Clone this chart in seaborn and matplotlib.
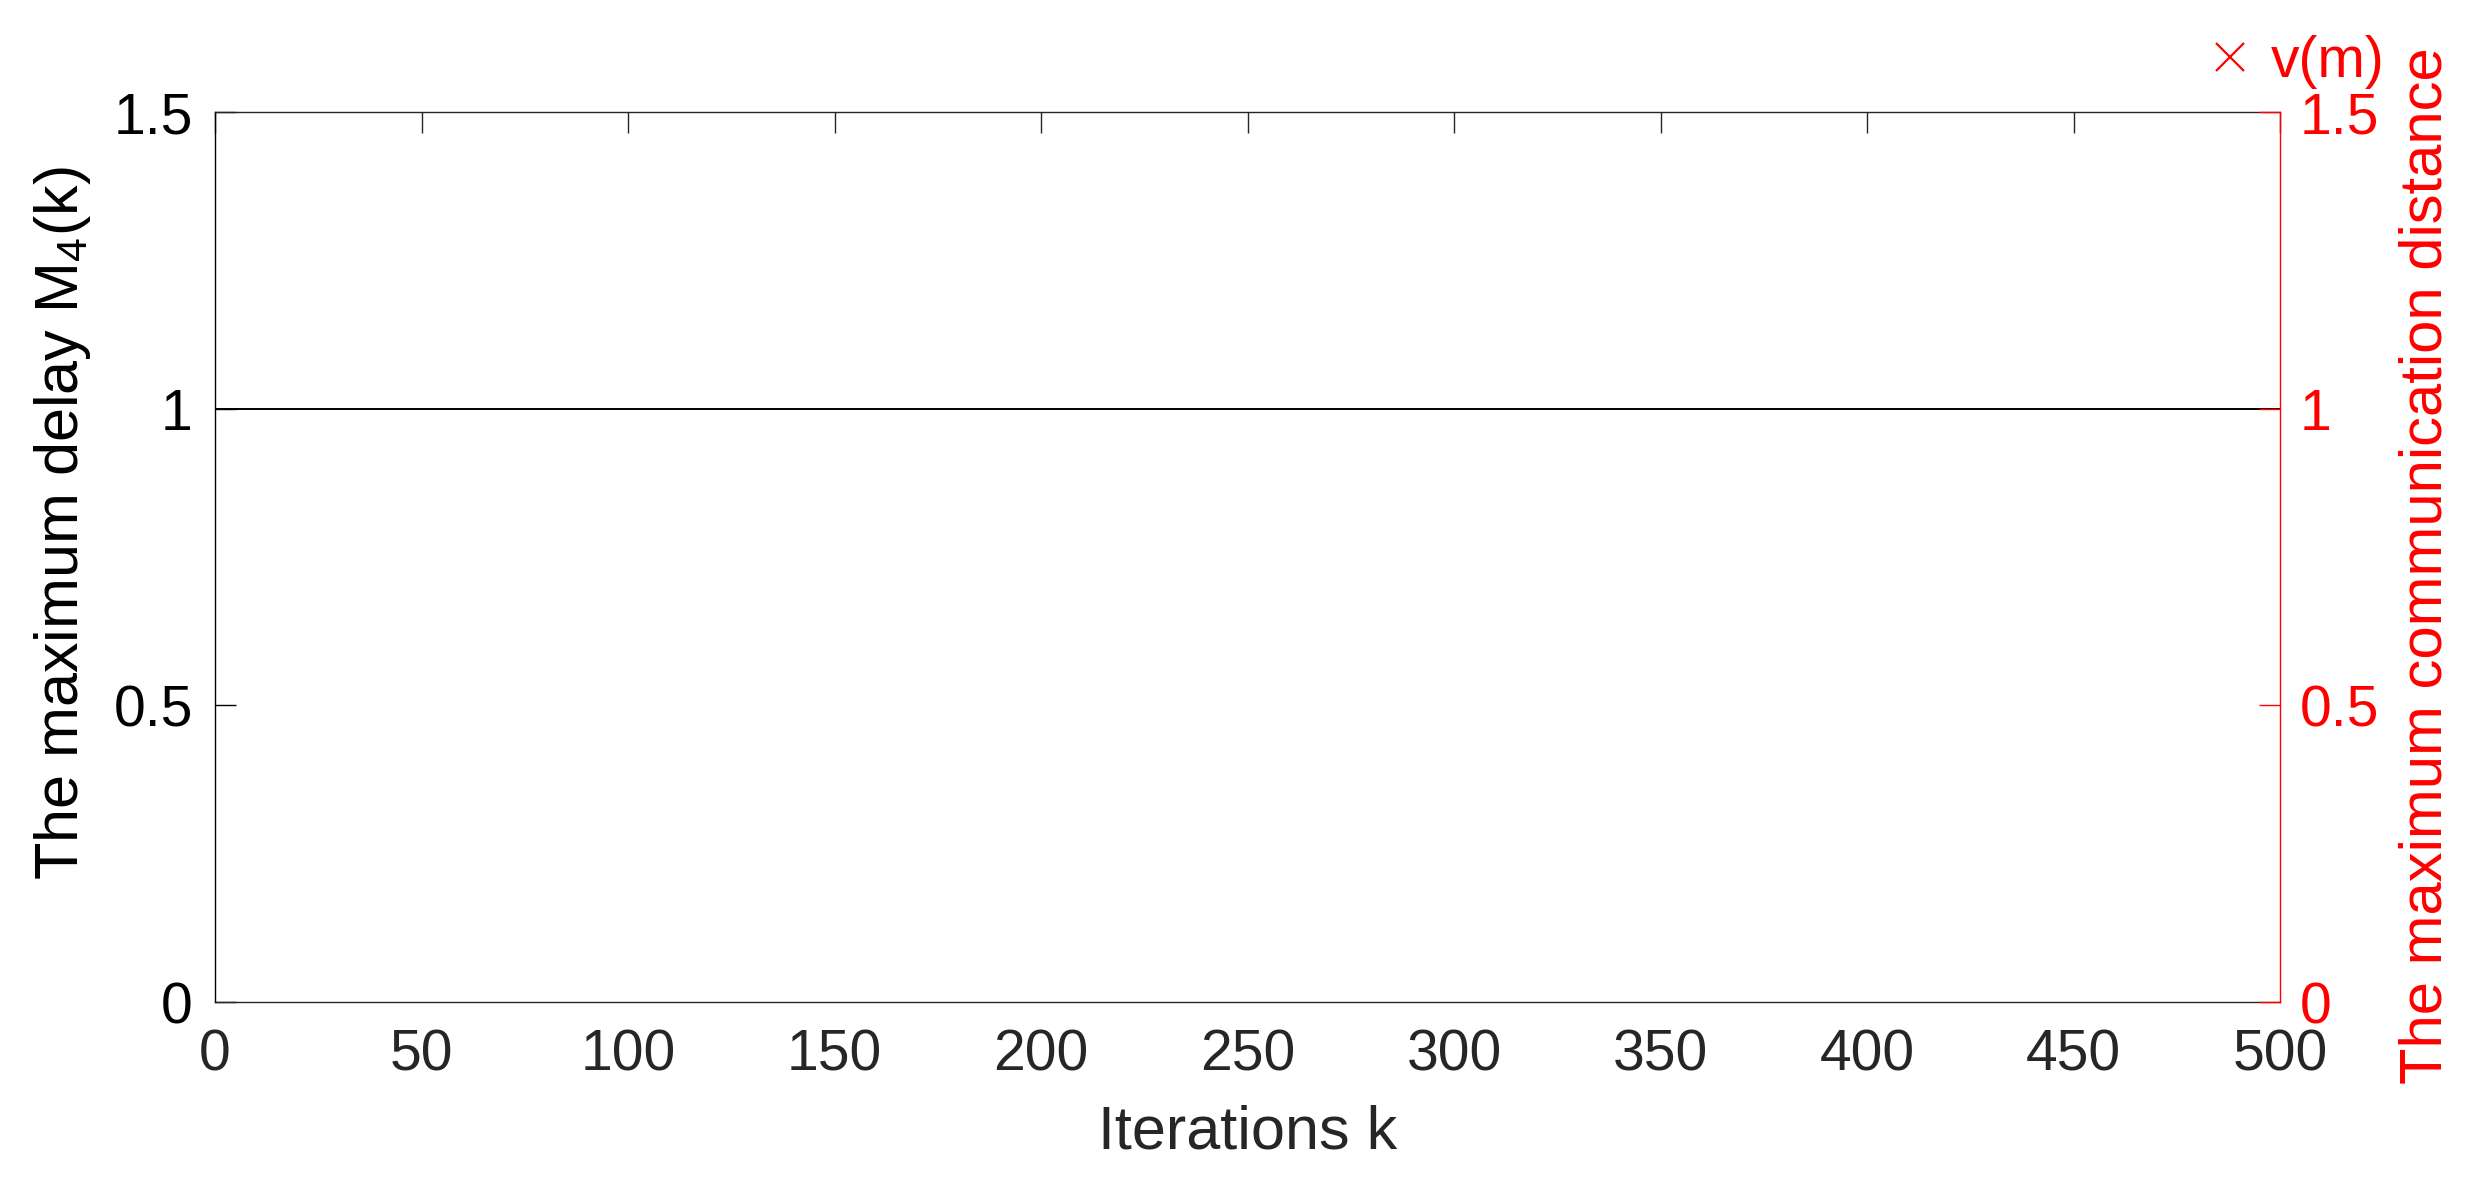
import matplotlib
matplotlib.use("Agg")
import matplotlib.pyplot as plt
import seaborn as sns
import pandas as pd
from matplotlib.lines import Line2D

# data
iterations = [0, 500]
max_delay = [1, 1]
x_ticks = [0, 50, 100, 150, 200, 250, 300, 350, 400, 450, 500]
y_ticks = [0, 0.5, 1, 1.5]
y_tick_labels = ["0", "0.5", "1", "1.5"]

sns.set_theme(style="white")
plt.rcParams["font.family"] = ["Liberation Sans", "DejaVu Sans"]
plt.rcParams["mathtext.fontset"] = "custom"
plt.rcParams["mathtext.rm"] = "Liberation Sans"
plt.rcParams["mathtext.default"] = "regular"

W, H = 2484, 1184
fig = plt.figure(figsize=(W / 200, H / 200), dpi=200)
ax = fig.add_axes([215 / W, 1 - 1002 / H, (2280 - 215) / W, (1002 - 112) / H])

df = pd.DataFrame({"k": iterations, "M4": max_delay})
sns.lineplot(data=df, x="k", y="M4", ax=ax, color="black", linewidth=0.7)

ax.set_xlim(0, 500)
ax.set_ylim(0, 1.5)
ax.set_xticks(x_ticks)
ax.set_yticks(y_ticks)
ax.set_yticklabels(y_tick_labels)
ax.tick_params(axis="x", direction="in", length=7.5, width=0.5, color="#262626",
               labelsize=20.5, labelcolor="#262626", pad=9.5, top=True)
ax.tick_params(axis="y", direction="in", length=7.5, width=0.5, color="black",
               labelsize=20.5, labelcolor="black", pad=8)
ax.set_xlabel("Iterations k", fontsize=22, color="#262626", labelpad=8)
ax.set_ylabel("The maximum delay M$_4$(k)", fontsize=22, color="black", labelpad=7.5)
ax.yaxis.label.set_y(0.538)
for s in ["left", "bottom", "top"]:
    ax.spines[s].set_linewidth(0.5)
ax.spines["left"].set_color("black")
ax.spines["bottom"].set_color("#262626")
ax.spines["top"].set_color("#262626")
ax.spines["right"].set_visible(False)

ax2 = ax.twinx()
ax2.set_ylim(0, 1.5)
ax2.set_yticks(y_ticks)
ax2.set_yticklabels(y_tick_labels)
ax2.tick_params(axis="y", direction="in", length=7.5, width=0.5, color="red",
                labelsize=20.5, labelcolor="red", pad=7)
ax2.set_ylabel("The maximum communication distance", fontsize=21.5, color="red", labelpad=7)
ax2.yaxis.label.set_y(0.49)
for s in ["left", "bottom", "top"]:
    ax2.spines[s].set_visible(False)
ax2.spines["right"].set_color("red")
ax2.spines["right"].set_linewidth(0.5)

handle = Line2D([], [], linestyle="none", marker="x", color="red",
                markersize=10, markeredgewidth=0.8)
ax2.legend([handle], ["v(m)"], loc="center left",
           bbox_to_anchor=(2202 / W, 1 - 62 / H), bbox_transform=fig.transFigure,
           frameon=False, fontsize=20.5, labelcolor="red", handlelength=1,
           handletextpad=0.2, borderpad=0, borderaxespad=0)

fig.savefig("out.png", dpi=200, facecolor="white")
